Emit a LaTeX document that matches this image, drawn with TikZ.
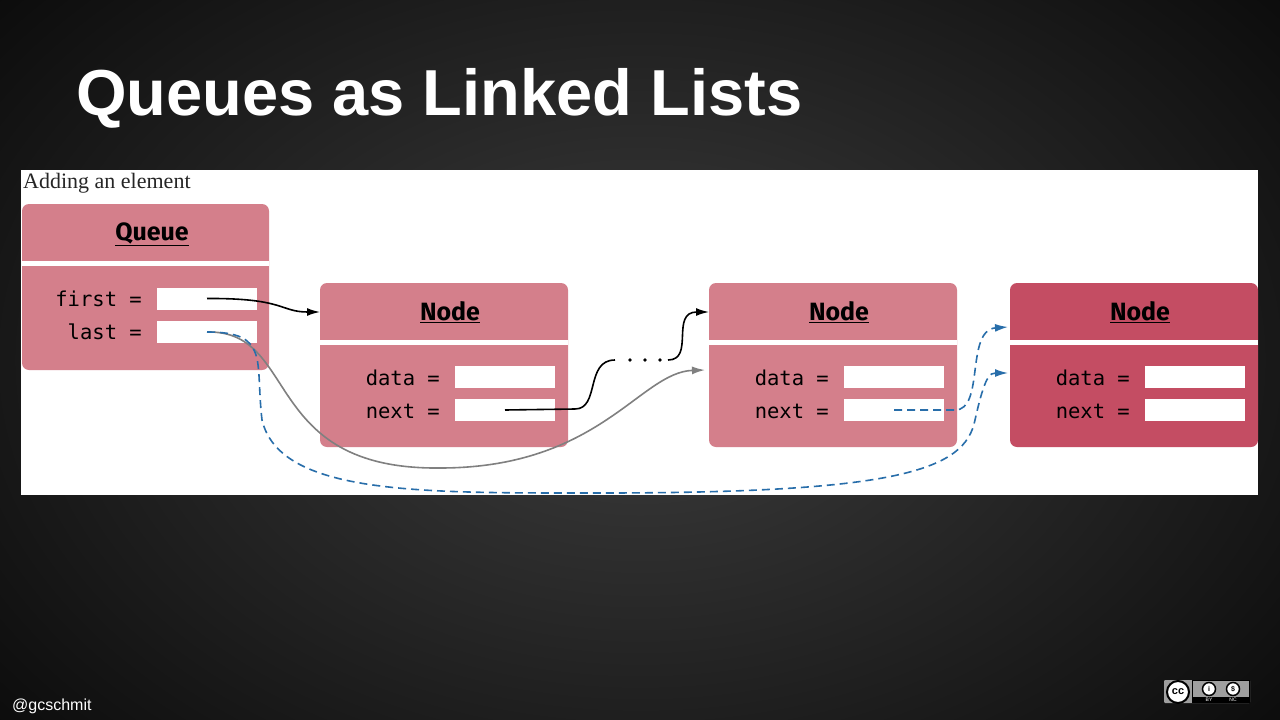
\documentclass[tikz,border=0pt]{standalone}
\usepackage{fontspec}
\setmainfont{Liberation Serif}
\setsansfont{Liberation Sans}
\setmonofont{DejaVu Sans Mono}
\newfontfamily\hdrfont{Fira Sans}
\usetikzlibrary{arrows.meta}
\definecolor{lpink}{RGB}{212,127,139}
\definecolor{dpink}{RGB}{196,77,99}
\definecolor{lblue}{RGB}{40,110,170}
\tikzset{
  box/.style={rounded corners=7pt},
  fld/.style={fill=white,draw=none,minimum width=100pt,minimum height=22pt,inner sep=0pt},
  lbl/.style={font=\ttfamily\fontsize{20.5}{20.5}\selectfont,anchor=east,inner sep=0pt},
  hdr/.style={font=\hdrfont\bfseries\fontsize{25}{25}\selectfont,inner sep=0pt},
  conn/.style={line width=1.6pt,-{Latex[length=13pt,width=8pt]}},
  bdash/.style={conn,lblue,dash pattern=on 8pt off 5pt},
}
\newcommand{\ul}[1]{\underline{#1}}
\begin{document}
\begin{tikzpicture}[x=1pt,y=-1pt]
\useasboundingbox (0,0) rectangle (1280,720);
\fill[black] (0,0) rectangle (1280,720);
\begin{scope}
\clip (0,0) rectangle (1280,720);
\shade[inner color={rgb,255:red,62;green,62;blue,62}, outer color={rgb,255:red,8;green,8;blue,8}] (640,360) ellipse (900 and 620);
\end{scope}
\node[font=\sffamily\bfseries\fontsize{65}{65}\selectfont,text=white,anchor=west,inner sep=0pt] (title) at (76,98) {Queues as Linked Lists};
\fill[white] (21,170) rectangle (1258,495);
\node[font=\fontsize{22}{22}\selectfont,anchor=west,inner sep=0pt,text=black!85] (cap) at (23,183) {Adding an element};
% Queue
\fill[lpink,box] (22,204) rectangle (269,370);
\fill[white] (22,261) rectangle (269,266);
\node[hdr] (qh) at (152,234) {\ul{Queue}};
\node[fld] (first) at (207,298.5) {};
\node[fld] (last) at (207,332) {};
\node[lbl] (lf) at (142,299) {first =};
\node[lbl] (ll) at (142,332) {last =};
% Nodes
\foreach \n/\x/\c in {a/320/lpink,b/709/lpink,c/1010/dpink}{
  \fill[\c,box] (\x,283) rectangle (\x+248,447);
  \fill[white] (\x,340) rectangle (\x+248,345);
  \node[hdr] (\n h) at (\x+130,312) {\ul{Node}};
  \node[fld] (\n d) at (\x+185,377) {};
  \node[fld] (\n n) at (\x+185,410) {};
  \node[lbl] (\n ld) at (\x+120,378) {data =};
  \node[lbl] (\n ln) at (\x+120,411) {next =};
}
\foreach \i/\xx in {1/630,2/645,3/660} \fill[black] (\xx,360) circle (1.8);
\coordinate (dl) at (615,360);
\coordinate (dr) at (668,360);
% connectors
\draw[conn] (first.center) .. controls (285,298) and (280,312) .. (ah.west -| 320,312);
\draw[line width=1.6pt] (an.center) -- (575,409) .. controls (600,409) and (585,360) .. (dl);
\draw[conn] (dr) .. controls (695,360) and (670,312) .. (bh.west -| 709,312);
\draw[conn,gray] (last.center) .. controls (300,330) and (260,470) .. (440,468) .. controls (600,468) and (640,372) .. (705,370);
\draw[bdash] (last.center) .. controls (270,332) and (255,360) .. (262,420) .. controls (280,495) and (420,493) .. (600,493) .. controls (900,493) and (965,470) .. (975,420) .. controls (985,375) and (990,373) .. (1008,373);
\draw[bdash] (bn.center) -- (955,410) .. controls (985,410) and (965,330) .. (1008,327);
% footer
\node[font=\sffamily\fontsize{16}{16}\selectfont,text=white,anchor=west,inner sep=0pt] (handle) at (12,706) {@gcschmit};
\fill[gray!75,rounded corners=1pt] (1164,680) rectangle (1250,703);
\fill[black] (1192,680) rectangle (1250,703);
\fill[gray!75] (1193,681) rectangle (1249,697);
\draw[black,fill=white,line width=2pt] (1178,692) circle (11);
\node[font=\sffamily\bfseries\fontsize{11}{11}\selectfont,inner sep=0pt] (cc) at (1178,692) {cc};
\draw[black,fill=white,line width=1.5pt] (1209,689) circle (6.5);
\draw[black,fill=white,line width=1.5pt] (1233,689) circle (6.5);
\node[font=\sffamily\bfseries\fontsize{7}{7}\selectfont,inner sep=0pt] (i) at (1209,689) {i};
\node[font=\sffamily\bfseries\fontsize{7}{7}\selectfont,inner sep=0pt] (s) at (1233,689) {\$};
\node[font=\sffamily\fontsize{5}{5}\selectfont,text=white,inner sep=0pt] (by) at (1209,700) {BY};
\node[font=\sffamily\fontsize{5}{5}\selectfont,text=white,inner sep=0pt] (nc) at (1233,700) {NC};
\end{tikzpicture}
\end{document}
